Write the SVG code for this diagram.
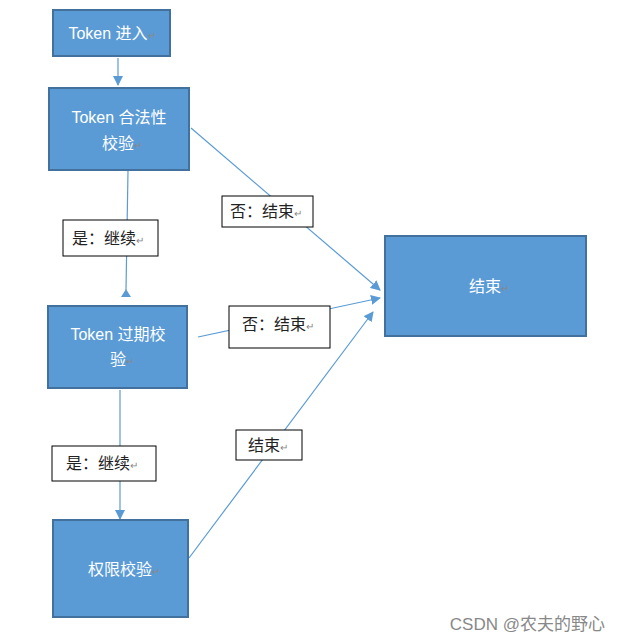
<svg xmlns="http://www.w3.org/2000/svg" width="622" height="643" viewBox="0 0 622 643">
<style>
.n{fill:#5b9bd5;stroke:#41719c;stroke-width:2}
.t{font-family:"Liberation Sans","Noto Sans CJK SC",sans-serif;font-size:16px;fill:#fff;text-anchor:middle}
.l{fill:#fff;stroke:#000;stroke-width:1}
.lt{font-family:"Liberation Sans","Noto Sans CJK SC",sans-serif;font-size:16px;fill:#222;text-anchor:middle}
.r{fill:#888;font-size:10px}
.c{stroke:#5b9bd5;stroke-width:1.2;fill:none}
</style>
<defs><marker id="a" markerWidth="10" markerHeight="10" refX="9" refY="5" orient="auto" markerUnits="userSpaceOnUse"><path d="M0,0L10,5L0,10z" fill="#5b9bd5"/></marker></defs>
<rect width="622" height="643" fill="#fff"/>
<g id="connectors">
<line class="c" x1="118" y1="58" x2="118" y2="85" marker-end="url(#a)"/>
<line class="c" x1="128" y1="171" x2="126" y2="290"/>
<path d="M121,297L126,289L131,297z" fill="#5b9bd5"/>
<line class="c" x1="120" y1="390" x2="120" y2="519" marker-end="url(#a)"/>
<line class="c" x1="191" y1="128" x2="380" y2="290" marker-end="url(#a)"/>
<line class="c" x1="198" y1="337" x2="380" y2="298" marker-end="url(#a)"/>
<line class="c" x1="189" y1="558" x2="373" y2="312" marker-end="url(#a)"/>
</g>
<g id="lbl1"><rect class="l" x="63" y="220" width="95" height="36"/><text class="lt" x="108" y="244">是：继续<tspan class="r">↵</tspan></text></g>
<g id="lbl2"><rect class="l" x="222" y="196" width="91" height="31"/><text class="lt" x="266" y="217">否：结束<tspan class="r">↵</tspan></text></g>
<g id="lbl3"><rect class="l" x="229" y="306" width="101" height="42"/><text class="lt" x="278" y="330">否：结束<tspan class="r">↵</tspan></text></g>
<g id="lbl4"><rect class="l" x="52" y="446" width="104" height="35"/><text class="lt" x="102" y="469">是：继续<tspan class="r">↵</tspan></text></g>
<g id="lbl5"><rect class="l" x="236" y="430" width="66" height="30"/><text class="lt" x="268" y="451">结束<tspan class="r">↵</tspan></text></g>
<g id="n1"><rect class="n" x="53" y="10" width="117" height="46"/><text class="t" x="112" y="39">Token 进入<tspan class="r">↵</tspan></text></g>
<g id="n2"><rect class="n" x="49" y="88" width="140" height="82"/><text class="t" x="119" y="123">Token 合法性</text><text class="t" x="122" y="149">校验<tspan class="r">↵</tspan></text></g>
<g id="n3"><rect class="n" x="48" y="306" width="139" height="82"/><text class="t" x="118" y="340">Token 过期校</text><text class="t" x="122" y="365">验<tspan class="r">↵</tspan></text></g>
<g id="n4"><rect class="n" x="53" y="520" width="135" height="97"/><text class="t" x="124" y="575">权限校验<tspan class="r">↵</tspan></text></g>
<g id="end"><rect class="n" x="385" y="236" width="201" height="100"/><text class="t" x="489" y="292">结束<tspan class="r">↵</tspan></text></g>
<text x="605" y="630" font-family="'Liberation Sans','Noto Sans CJK SC',sans-serif" font-size="17" fill="#888" text-anchor="end">CSDN @农夫的野心</text>
</svg>
